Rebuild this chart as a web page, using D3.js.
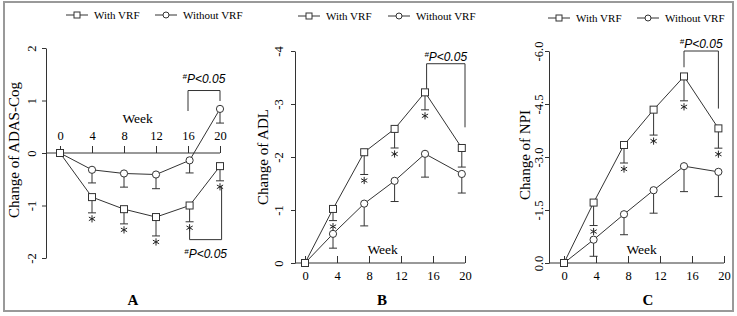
<!DOCTYPE html>
<html>
<head>
<meta charset="utf-8">
<script src="https://cdn.jsdelivr.net/npm/d3@7"></script>
<style>
  body { margin: 0; background: #fff; }
  svg text { font-family: "Liberation Serif", "Times New Roman", serif; fill: #000; }
</style>
</head>
<body>
<div id="chart"></div>
<script>
// ---- data ----
const weekTicks = [0, 4, 8, 12, 16, 20];
const seriesNames = ["With VRF", "Without VRF"];

// Panel A: ADAS-Cog
const adasWeeks = [0, 4, 8, 12, 16.2, 20];
const adasWith = [0, -0.84, -1.07, -1.22, -1.0, -0.25];
const adasWithBar = [0, -1.14, -1.35, -1.58, -1.31, -0.53];
const adasWithout = [0, -0.32, -0.39, -0.41, -0.14, 0.84];
const adasWithoutBar = [0, -0.57, -0.65, -0.68, -0.38, 0.57];
const adasStars = [false, true, true, true, true, true];
const adasTicks = [2, 1, 0, -1, -2];

// Panel B: ADL
const adlWeeks = [0, 3.5, 7.4, 11.2, 15.0, 19.6];
const adlWith = [0, -1.02, -2.09, -2.53, -3.22, -2.17];
const adlWithBar = [0, -0.80, -1.67, -2.17, -2.89, -1.81];
const adlWithout = [0, -0.55, -1.12, -1.55, -2.06, -1.68];
const adlWithoutBar = [0, -0.28, -0.70, -1.16, -1.62, -1.32];
const adlStars = [false, true, true, true, true, false];
const adlTicks = [0, -1, -2, -3, -4];

// Panel C: NPI
const npiWeeks = [0, 3.7, 7.5, 11.2, 15.0, 19.3];
const npiWith = [0, -1.71, -3.34, -4.34, -5.28, -3.81];
const npiWithBar = [0, -1.06, -2.83, -3.62, -4.59, -3.25];
const npiWithout = [0, -0.66, -1.38, -2.06, -2.74, -2.58];
const npiWithoutBar = [0, -0.19, -0.80, -1.41, -2.02, -1.88];
const npiStars = [false, true, true, true, true, true];
const npiTicks = ["0.0", "-1.5", "-3.0", "-4.5", "-6.0"];

// significance brackets: weeks [left, right], values [left end, top, right end]
const adasBracketTop = {weeks: [16, 20], values: [0.80, 1.19, 0.99]};
const adasBracketBottom = {weeks: [16.2, 20.2], values: [-1.43, -1.65, -0.63]};
const adlBracket = {weeks: [15.2, 20], values: [-3.29, -3.76, -2.56]};
const npiBracket = {weeks: [15, 19.3], values: [-5.54, -6.0, -4.37]};

// ---- svg ----
const W = 737, H = 316;
const serif = "'Liberation Serif', 'Times New Roman', serif";
const svg = d3.select("#chart")
    .append("svg")
    .attr("width", W)
    .attr("height", H);

svg.append("rect")
    .attr("x", 4).attr("y", 2)
    .attr("width", 729).attr("height", 309)
    .attr("fill", "none")
    .attr("stroke", "#999")
    .attr("stroke-width", 2);

const ink = "#333";
const star = d3.symbol(d3.symbolAsterisk, 36);

const panels = [
  { letter: "A", letterX: 133, title: "Change of ADAS-Cog", titleX: 19, titleY: 150,
    weeks: adasWeeks, withV: adasWith, withBar: adasWithBar, withoutV: adasWithout, withoutBar: adasWithoutBar,
    stars: adasStars, ticks: adasTicks, yDomain: [-2, 2], yRange: [258, 48],
    xRange: [60, 220], yAxisX: 46, tickLabelGap: 10, xTop: true,
    legendX: [66, 155], legendY: 15,
    brackets: [{b: adasBracketTop, dy: -8}, {b: adasBracketBottom, dy: 18}] },
  { letter: "B", letterX: 382, title: "Change of ADL", titleX: 268, titleY: 157,
    weeks: adlWeeks, withV: adlWith, withBar: adlWithBar, withoutV: adlWithout, withoutBar: adlWithoutBar,
    stars: adlStars, ticks: adlTicks, yDomain: [0, -4], yRange: [263, 51],
    xRange: [305, 465], yAxisX: 295, tickLabelGap: 12, xTop: false,
    legendX: [298, 388], legendY: 16,
    brackets: [{b: adlBracket, dy: -3}] },
  { letter: "C", letterX: 648, title: "Change of NPI", titleX: 530, titleY: 155,
    weeks: npiWeeks, withV: npiWith, withBar: npiWithBar, withoutV: npiWithout, withoutBar: npiWithoutBar,
    stars: npiStars, ticks: npiTicks, yDomain: [0, -6], yRange: [263, 51],
    xRange: [564, 724], yAxisX: 549, tickLabelGap: 6, xTop: false,
    legendX: [548, 637], legendY: 18,
    brackets: [{b: npiBracket, dy: -3}] }
];

panels.forEach(p => drawPanel(p));

function drawPanel(p) {
  const g = svg.append("g");

  const x = d3.scaleLinear().domain([0, 20]).range(p.xRange);
  const y = d3.scaleLinear().domain(p.yDomain).range(p.yRange);
  const axisY = y(0);

  // x axis (ticks point inwards, A has its labels above)
  const xAxis = (p.xTop ? d3.axisTop(x).tickSize(7).tickPadding(6)
                        : d3.axisBottom(x).tickSizeInner(-7).tickPadding(8))
      .tickValues(weekTicks).tickSizeOuter(0);
  const xg = g.append("g")
      .attr("transform", `translate(0,${axisY})`)
      .call(xAxis)
      .attr("font-family", serif);
  xg.select(".domain").remove();
  xg.selectAll("line").attr("stroke", ink);
  xg.selectAll("text")
      .style("font-family", serif)
      .style("font-size", "12.5px")
      .attr("fill", "#000");
  g.append("line")
      .attr("x1", p.yAxisX).attr("x2", x(20))
      .attr("y1", axisY).attr("y2", axisY)
      .attr("stroke", ink);
  g.append("text")
      .attr("x", x(9.7))
      .attr("y", p.xTop ? axisY - 30 : axisY - 9)
      .attr("text-anchor", "middle")
      .style("font-family", serif)
      .style("font-size", "13.5px")
      .text("Week");

  // y axis with rotated labels
  const yAxis = d3.axisLeft(y)
      .tickValues(p.ticks.map(Number))
      .tickFormat((d, i) => p.ticks[i])
      .tickSize(4).tickSizeOuter(0);
  const yg = g.append("g")
      .attr("transform", `translate(${p.yAxisX},0)`)
      .call(yAxis)
      .attr("font-family", serif);
  yg.select(".domain").attr("stroke", ink);
  yg.selectAll("line").attr("stroke", ink);
  yg.selectAll("text")
      .attr("x", null).attr("dy", null)
      .attr("text-anchor", "middle")
      .attr("transform", `translate(${-p.tickLabelGap},0) rotate(-90)`)
      .style("font-family", serif)
      .style("font-size", "12.5px")
      .attr("fill", "#000");

  g.append("text")
      .attr("transform", `translate(${p.titleX},${p.titleY}) rotate(-90)`)
      .attr("text-anchor", "middle")
      .style("font-family", serif)
      .style("font-size", "15px")
      .text(p.title);

  // series
  const withData = p.weeks.map((w, i) => ({w: w, v: p.withV[i], bar: p.withBar[i], star: p.stars[i]}));
  const withoutData = p.weeks.map((w, i) => ({w: w, v: p.withoutV[i], bar: p.withoutBar[i]}));

  const line = d3.line().x(d => x(d.w)).y(d => y(d.v));
  [withoutData, withData].forEach(data => {
    g.append("path")
        .attr("d", line(data))
        .attr("fill", "none")
        .attr("stroke", ink)
        .attr("stroke-width", 1);

    // error bars (one-sided)
    const eb = g.selectAll(null)
        .data(data.filter(d => d.w > 0))
        .join("g");
    eb.append("line")
        .attr("x1", d => x(d.w)).attr("x2", d => x(d.w))
        .attr("y1", d => y(d.v)).attr("y2", d => y(d.bar))
        .attr("stroke", ink);
    eb.append("line")
        .attr("x1", d => x(d.w) - 4).attr("x2", d => x(d.w) + 4)
        .attr("y1", d => y(d.bar)).attr("y2", d => y(d.bar))
        .attr("stroke", ink);
  });

  // markers
  g.selectAll(null)
      .data(withoutData)
      .join("circle")
      .attr("cx", d => x(d.w)).attr("cy", d => y(d.v))
      .attr("r", 3.6)
      .attr("fill", "#fff").attr("stroke", ink);
  g.selectAll(null)
      .data(withData)
      .join("rect")
      .attr("x", d => x(d.w) - 3.5).attr("y", d => y(d.v) - 3.5)
      .attr("width", 7).attr("height", 7)
      .attr("fill", "#fff").attr("stroke", ink);

  // significance stars
  g.selectAll(null)
      .data(withData.filter(d => d.star))
      .join("path")
      .attr("transform", d => `translate(${x(d.w)},${y(d.bar) + 6})`)
      .attr("d", star)
      .attr("fill", "none")
      .attr("stroke", "#222")
      .attr("stroke-width", 1);

  // brackets
  p.brackets.forEach(({b, dy}) => {
    const xl = x(b.weeks[0]), xr = x(b.weeks[1]);
    const pts = [[xl, y(b.values[0])], [xl, y(b.values[1])], [xr, y(b.values[1])], [xr, y(b.values[2])]];
    g.append("path")
        .attr("d", d3.line()(pts))
        .attr("fill", "none")
        .attr("stroke", ink);
    const t = g.append("text")
        .attr("x", (xl + xr) / 2)
        .attr("y", y(b.values[1]) + dy)
        .attr("text-anchor", "middle")
        .style("font-family", "'Liberation Sans', Arial, sans-serif")
        .style("font-style", "italic")
        .style("font-size", "12px")
        .attr("fill", "#333");
    t.append("tspan").attr("dy", -4).style("font-size", "8px").text("#");
    t.append("tspan").attr("dy", 4).text("P<0.05");
  });

  // legend
  seriesNames.forEach((name, i) => {
    const lx = p.legendX[i], ly = p.legendY;
    g.append("line")
        .attr("x1", lx).attr("x2", lx + 22)
        .attr("y1", ly).attr("y2", ly)
        .attr("stroke", ink);
    if (i === 0) {
      g.append("rect")
          .attr("x", lx + 11 - 3).attr("y", ly - 3)
          .attr("width", 6).attr("height", 6)
          .attr("fill", "#fff").attr("stroke", ink);
    } else {
      g.append("circle")
          .attr("cx", lx + 11).attr("cy", ly).attr("r", 3)
          .attr("fill", "#fff").attr("stroke", ink);
    }
    g.append("text")
        .attr("x", lx + 28).attr("y", ly + 4)
        .style("font-family", serif)
        .style("font-size", "11px")
        .text(name);
  });

  // panel letter
  g.append("text")
      .attr("x", p.letterX).attr("y", 305)
      .attr("text-anchor", "middle")
      .style("font-family", serif)
      .style("font-size", "15px")
      .style("font-weight", "bold")
      .text(p.letter);
}
</script>
</body>
</html>
